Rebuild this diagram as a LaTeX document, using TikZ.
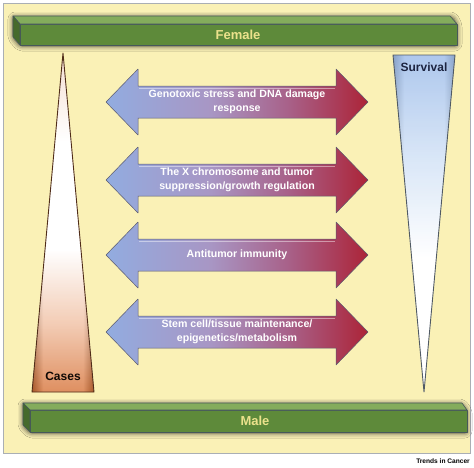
\documentclass[tikz,border=0pt]{standalone}
\usepackage{fontspec}
\setmainfont{Liberation Sans}
\usetikzlibrary{shadows.blur}
\definecolor{bgyellow}{RGB}{250,241,182}
\definecolor{framegray}{RGB}{170,175,180}
\definecolor{barfront}{RGB}{94,138,58}
\definecolor{bartop}{RGB}{132,172,92}
\definecolor{barside}{RGB}{70,106,44}
\definecolor{baredge}{RGB}{70,88,90}
\definecolor{bartext}{RGB}{236,226,140}
\definecolor{arrowblue}{RGB}{146,172,224}
\definecolor{arrowmid}{RGB}{168,150,196}
\definecolor{arrowmauve}{RGB}{168,96,136}
\definecolor{arrowred}{RGB}{172,36,56}
\definecolor{arrowedge}{RGB}{90,90,110}
\definecolor{casesorange}{RGB}{214,112,52}
\definecolor{casesmid}{RGB}{240,190,160}
\definecolor{casespeach}{RGB}{244,214,198}
\definecolor{casesedge}{RGB}{80,45,25}
\definecolor{survblue}{RGB}{160,190,234}
\definecolor{survmid}{RGB}{210,226,246}
\definecolor{survedge}{RGB}{80,90,100}
\definecolor{survtext}{RGB}{28,36,64}
\pgfdeclarehorizontalshading{arrowshade}{100bp}{color(0bp)=(arrowblue); color(25bp)=(arrowblue); color(45bp)=(arrowmid); color(60bp)=(arrowmauve); color(75bp)=(arrowred); color(100bp)=(arrowred)}
\pgfdeclareverticalshading{casesshade}{100bp}{color(0bp)=(casesorange); color(25bp)=(casesorange); color(35bp)=(casesmid); color(46bp)=(white); color(62bp)=(white); color(75bp)=(casespeach); color(100bp)=(casespeach)}
\pgfdeclareverticalshading{survshade}{100bp}{color(0bp)=(white); color(25bp)=(white); color(45bp)=(white); color(60bp)=(survmid); color(75bp)=(survblue); color(100bp)=(survblue)}
\pgfdeclarehorizontalshading{tubeshade}{100bp}{color(0bp)=(black); color(25bp)=(black); color(34bp)=(white); color(66bp)=(white); color(75bp)=(black); color(100bp)=(black)}
\tikzset{
  barshadow/.style={blur shadow={shadow xshift=0pt,shadow yshift=-1pt,shadow blur radius=5pt,shadow opacity=75,shadow blur extra rounding=2pt}},
  baroutline/.style={draw=baredge,line width=0.6pt,line join=round},
  bartextstyle/.style={text=bartext,font=\bfseries\fontsize{13}{15}\selectfont},
  arrowshape/.style={draw=arrowedge,line width=0.5pt,line join=round,shading=arrowshade},
  arrowtext/.style={text=white,align=center,font=\bfseries\fontsize{10.6}{14}\selectfont},
  trilabel/.style={font=\bfseries\fontsize{12}{14}\selectfont}
}
\begin{document}
\begin{tikzpicture}[x=1pt,y=-1pt]
\useasboundingbox (0,0) rectangle (474,467);
\fill[white] (0,0) rectangle (474,467);
\draw[framegray,fill=bgyellow,line width=0.8pt] (3,3) rectangle (470,453);

% Female bar
\path[barshadow] (13,16) -- (453,16) -- (457,24) -- (457,45) -- (20,45) -- (13,37) -- cycle;
\filldraw[baroutline,fill=barfront] (20,24) rectangle (457,45);
\filldraw[baroutline,fill=bartop] (13,16) -- (450,16) -- (457,24) -- (20,24) -- cycle;
\filldraw[baroutline,fill=barside] (13,16) -- (20,24) -- (20,45) -- (13,37) -- cycle;
\node[bartextstyle] (female) at (238,35) {Female};

% Male bar
\path[barshadow] (23,403) -- (462,403) -- (467,410) -- (467,432) -- (30,432) -- (23,425) -- cycle;
\filldraw[baroutline,fill=barfront] (30,410) rectangle (467,432);
\filldraw[baroutline,fill=bartop] (23,403) -- (462,403) -- (467,410) -- (30,410) -- cycle;
\filldraw[baroutline,fill=barside] (23,403) -- (30,410) -- (30,432) -- (23,425) -- cycle;
\node[bartextstyle] (male) at (255,421) {Male};

% Cases triangle
\shade[shading=casesshade] (63,53) -- (94,392) -- (32,392) -- cycle;
\shade[shading=tubeshade,fill opacity=0.22] (63,53) -- (94,392) -- (32,392) -- cycle;
\draw[casesedge,line width=0.9pt,line join=round] (63,53) -- (94,392) -- (32,392) -- cycle;
\node[trilabel,text=black!80!casesedge] (cases) at (63,376) {Cases};

% Survival triangle
\shade[shading=survshade] (393,55) -- (455,55) -- (424,392) -- cycle;
\shade[shading=tubeshade,fill opacity=0.15] (393,55) -- (455,55) -- (424,392) -- cycle;
\draw[survedge,line width=0.9pt,line join=round] (393,55) -- (455,55) -- (424,392) -- cycle;
\node[trilabel,text=survtext] (survival) at (424,67) {Survival};

% Double arrows
\foreach \c/\t [count=\i] in {102/{Genotoxic stress and DNA damage\\response},
  180/{The X chromosome and tumor\\suppression/growth regulation},
  255/{Antitumor immunity},
  332/{Stem cell/tissue maintenance/\\epigenetics/metabolism}}{
  \path[arrowshape] (106,\c) -- (138,\c-33) -- (138,\c-16) -- (336,\c-16) -- (336,\c-33) -- (368,\c)
     -- (336,\c+33) -- (336,\c+16) -- (138,\c+16) -- (138,\c+33) -- cycle;
  \draw[white,opacity=0.45,line width=1pt] (139,\c-14) -- (335,\c-14);
  \node[arrowtext] (arrow\i) at (237,\c) {\t};
}

\node[font=\bfseries\fontsize{6.6}{7}\selectfont,anchor=east,inner sep=0pt] (credit) at (470,461) {Trends in Cancer};
\end{tikzpicture}
\end{document}
